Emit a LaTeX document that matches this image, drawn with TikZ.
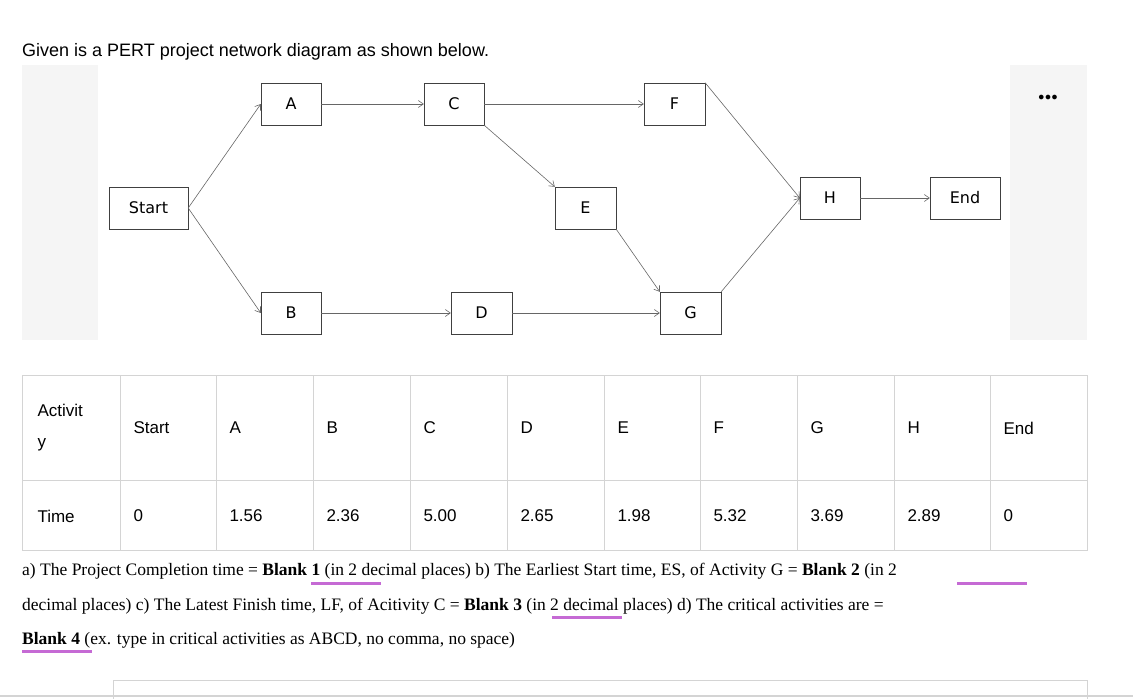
\documentclass[tikz,border=0pt]{standalone}
\usepackage{fontspec}
\usetikzlibrary{arrows.meta}
\setmainfont{Liberation Serif}
\newfontfamily\arialfont{Liberation Sans}
\newfontfamily\djsansfont{DejaVu Sans}
\definecolor{blk}{HTML}{C56AD4}
\definecolor{panel}{HTML}{F5F5F5}
\definecolor{grid}{HTML}{D4D4D4}
\begin{document}
\begin{tikzpicture}[x=1pt,y=-1pt,
  bx/.style={draw=black!75,fill=white,minimum height=42pt,inner sep=0pt,font=\djsansfont\fontsize{16}{18}\selectfont},
  ar/.style={draw=black!60,->,>={Straight Barb[length=5pt,width=7pt]},line width=0.6pt},
  tt/.style={font=\arialfont\fontsize{17}{20}\selectfont,anchor=west},
  para/.style={font=\fontsize{17.5}{20}\selectfont,anchor=base west,inner sep=0pt}]
\useasboundingbox (0,0) rectangle (1133,699);
\node[font=\arialfont\fontsize{18}{20}\selectfont,anchor=base west,inner sep=0pt] (title) at (22,56) {Given is a PERT project network diagram as shown below.};
\fill[panel] (22,65) rectangle (98,340);
\fill[panel] (1010,65) rectangle (1087,340);
\node[font=\arialfont\fontsize{12}{12}\selectfont] (dots) at (1048,98) {\textbf{$\bullet\!\bullet\!\bullet$}};
\node[bx,minimum width=79pt] (S) at (148.5,208) {Start};
\node[bx,minimum width=60pt] (A) at (291,104) {A};
\node[bx,minimum width=60pt] (C) at (454,104) {C};
\node[bx,minimum width=61pt] (F) at (674.5,104) {F};
\node[bx,minimum width=61pt] (E) at (585.5,208) {E};
\node[bx,minimum width=60pt] (H) at (830,198) {H};
\node[bx,minimum width=70pt] (End) at (965,198) {End};
\node[bx,minimum width=60pt] (B) at (291,313) {B};
\node[bx,minimum width=61pt] (D) at (481.5,313) {D};
\node[bx,minimum width=61pt] (G) at (690.5,313) {G};
\draw[ar] (S.east) -- (A.west);
\draw[ar] (S.east) -- (B.west);
\draw[ar] (A.east) -- (C.west);
\draw[ar] (C.east) -- (F.west);
\draw[ar] (C.south east) -- (E.north west);
\draw[ar] (B.east) -- (D.west);
\draw[ar] (D.east) -- (G.west);
\draw[ar] (E.south east) -- (G.north west);
\draw[ar] (F.north east) -- (H.west);
\draw[ar] (G.north east) -- (H.west);
\draw[ar] (H.east) -- (End.west);
% table
\draw[grid,line width=1pt] (22,375) rectangle (1087,550);
\draw[grid,line width=1pt] (22,480) -- (1087,480);
\foreach \x in {120,216,313,410,507,604,700,797,894,990} \draw[grid,line width=1pt] (\x,375) -- (\x,550);
\node[tt] (h0) at (34,410) {Activit};
\node[tt] (h0b) at (34,445) {y};
\foreach \x/\t [count=\i] in {130/Start,226/A,323/B,420/C,517/D,614/E,710/F,807/G,904/H,1000/End}
  \node[tt] (h\i) at (\x,428) {\t};
\node[tt] (r0) at (34,516) {Time};
\foreach \x/\t [count=\i] in {130/0,226/1.56,323/2.36,420/5.00,517/2.65,614/1.98,710/5.32,807/3.69,904/2.89,1000/0}
  \node[tt] (r\i) at (\x,516) {\t};
% paragraph
\node[para] (l1) at (22,575) {a) The Project Completion time = \textbf{Blank 1} (in 2 decimal places) b) The Earliest Start time, ES, of Activity G = \textbf{Blank 2} (in 2};
\node[para] (l2) at (22,610) {decimal places) c) The Latest Finish time, LF, of Acitivity C = \textbf{Blank 3} (in 2 decimal places) d) The critical activities are =};
\node[para] (l3) at (22,644) {\textbf{Blank 4} (ex. type in critical activities as ABCD, no comma, no space)};
\fill[blk] (311,582) rectangle (381,585);
\fill[blk] (957,582) rectangle (1027,585);
\fill[blk] (552,616) rectangle (622,619);
\fill[blk] (22,650) rectangle (92,653);
\draw[grid,line width=1pt] (113,699) -- (113,680) -- (1087,680) -- (1087,699);
\draw[grid,line width=1.5pt] (0,696) -- (1133,696);
\end{tikzpicture}
\end{document}
